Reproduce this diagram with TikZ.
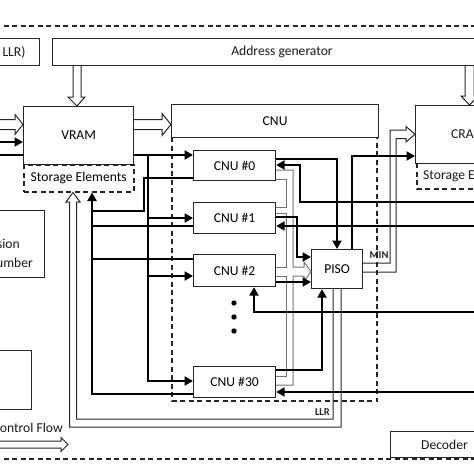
\documentclass[tikz,border=0pt]{standalone}
\usepackage{fontspec}
\setmainfont{Carlito}
\usetikzlibrary{arrows.meta}
\tikzset{
  box/.style={draw=black!85, line width=1.2pt, fill=white, inner sep=0pt, anchor=north west,
              font=\fontsize{13.6}{16}\selectfont},
  dbox/.style={draw=black!85, line width=1.5pt, dash pattern=on 5pt off 3.5pt},
  lab/.style={font=\fontsize{13.6}{16}\selectfont, inner sep=0pt, text=black!90},
  tag/.style={font=\fontsize{10.5}{12}\selectfont\bfseries, inner sep=0pt, text=black!85},
  wire/.style={line width=2.7pt, black},
  awire/.style={wire, -{Triangle[length=8.5pt,width=9pt]}},
  hollow/.style={draw=black!85, line width=1pt, line join=miter},
  busl/.style={draw=black!55, line width=1pt, line join=miter},
  dot/.style={circle, fill=black, inner sep=0pt, minimum size=5.4pt},
}
\begin{document}
\begin{tikzpicture}[x=1pt,y=-1pt]
\useasboundingbox (0,0) rectangle (474,474);
\clip (0,0) rectangle (474,474);

% dashed frames
\draw[dbox] (-5,26) -- (480,26);
\draw[dbox] (-5,459) -- (480,459);
\draw[dbox] (172,137) rectangle (377,401);
\node[dbox, anchor=north west, minimum width=110pt, minimum height=27pt, inner sep=0pt,
      font=\fontsize{13.6}{16}\selectfont] (vse) at (23,164) {Storage Elements};
\draw[dbox] (417,163) -- (417,189) -- (480,189);
\node[lab, anchor=west] (cset) at (423,176) {Storage E};

% boxes
\node[box, minimum width=50pt, minimum height=27pt] (llrb) at (-11,38) {};
\node[lab] (llrt) at (14,52) {LLR)};
\node[box, minimum width=440pt, minimum height=27pt] (agen) at (52,38) {};
\node[lab] (agent) at (282,52) {Address generator};
\node[box, minimum width=110pt, minimum height=58pt] (vram) at (23,106) {VRAM};
\node[box, minimum width=207pt, minimum height=33pt] (cnuh) at (171,104) {CNU};
\node[box, minimum width=120pt, minimum height=58pt] (cram) at (415,105) {};
\node[lab, anchor=west] (cramt) at (451,134) {CRA};
\node[box, minimum width=82pt, minimum height=30pt] (cnu0) at (193,150) {CNU \#0};
\node[box, minimum width=82pt, minimum height=31pt] (cnu1) at (193,202) {CNU \#1};
\node[box, minimum width=82pt, minimum height=32pt] (cnu2) at (193,254) {CNU \#2};
\node[box, minimum width=82pt, minimum height=31pt] (cnu30) at (193,366) {CNU \#30};
\node[box, minimum width=51pt, minimum height=39pt] (piso) at (311,249) {PISO};
\node[box, minimum width=60pt, minimum height=67pt] (lb1) at (-16,210) {};
\node[lab, anchor=east] (lb1a) at (20,244) {sion};
\node[lab, anchor=east] (lb1b) at (33,263) {umber};
\node[box, minimum width=45pt, minimum height=59pt] (lb2) at (-14,350) {};
\node[box, minimum width=100pt, minimum height=26pt] (dec) at (390,431) {};
\node[lab, anchor=west] (dect) at (421,445) {Decoder};
\node[lab, anchor=east] (cf) at (63,428) {ontrol Flow};

% dots
\node[dot] (d1) at (234,303) {};
\node[dot] (d2) at (234,317) {};
\node[dot] (d3) at (234,331) {};

% grey collecting bus from the CNUs to PISO
\draw[busl] (cnu0.east|-0,170) -- (293,170) -- (293,267) -- (304,267) -- (304,262)
   -- (piso.west|-0,271.5) -- (304,281) -- (304,276) -- (293,276) -- (293,385) -- (cnu30.east|-0,385);
\draw[busl] (cnu0.east|-0,179) -- (286,179) -- (286,207) -- (cnu1.east|-0,207);
\draw[busl] (cnu1.east|-0,213) -- (286,213) -- (286,267) -- (cnu2.east|-0,267);
\draw[busl] (cnu2.east|-0,276) -- (286,276) -- (286,376) -- (cnu30.east|-0,376);

% hollow (control flow) arrows
\draw[hollow] (73,65) -- (73,97) -- (68,97) -- (vram.north-|77,0) -- (85,97) -- (81,97) -- (81,65);
\draw[hollow] (465,65) -- (465,96) -- (461,96) -- (cram.north-|469.5,0) -- (478,96) -- (474,96) -- (474,65);
\draw[hollow] (-5,119.5) -- (15,119.5) -- (15,114.5) -- (vram.west|-0,124.5) -- (15,134.5) -- (15,129.5) -- (-5,129.5);
\draw[hollow] (vram.east|-0,119.5) -- (162,119.5) -- (162,113.5) -- (cnuh.west|-0,124.5)
   -- (162,135.5) -- (162,129.5) -- (vram.east|-0,129.5);
\draw[hollow] (piso.east|-0,263) -- (390,263) -- (390,130) -- (406,130) -- (406,126.5)
   -- (cram.west|-0,134.3) -- (406,142) -- (406,138.5) -- (396,138.5) -- (396,272) -- (piso.east|-0,272);
\draw[hollow] (piso.south-|341,0) -- (341,427) -- (69.5,427) -- (69.5,202) -- (66,202)
   -- (vse.south-|73,0) -- (80,202) -- (76.5,202) -- (76.5,419) -- (333,419) -- (piso.south-|333,0);
\draw[hollow] (-5,441) -- (61,441) -- (61,437.5) -- (68,444.5) -- (61,451.5) -- (61,448) -- (-5,448);

% thick data wires, left side
\draw[awire] (-5,142) -- (vram.west|-0,142);
\draw[wire] (-5,155) -- (vram.west|-0,155);
\draw[awire] (vram.east|-0,155) -- (cnu0.west|-0,155);
\draw[awire] (148,155) -- (148,381) -- (cnu30.west|-0,381);
\draw[awire] (148,218) -- (cnu1.west|-0,218);
\draw[awire] (148,276) -- (cnu2.west|-0,276);
\draw[wire] (cnu0.west|-0,178) -- (144,178) -- (144,211) -- (92,211);
\draw[awire] (cnu30.west|-0,394) -- (92,394) -- (vse.south-|92,0);
\draw[wire] (cnu1.west|-0,226) -- (92,226);
\draw[wire] (cnu2.west|-0,259) -- (92,259);

% thick data wires, right side
\draw[awire] (480,202) -- (300,202) -- (300,165) -- (cnu0.east|-0,165);
\draw[awire] (480,226) -- (cnu1.east|-0,226);
\draw[awire] (480,312) -- (254,312) -- (cnu2.south-|254,0);
\draw[awire] (480,392) -- (cnu30.east|-0,392);
\draw[awire] (cnu0.east|-0,159) -- (337,159) -- (piso.north-|337,0);
\draw[awire] (cnu1.east|-0,217) -- (297,217) -- (297,257) -- (piso.west|-0,257);
\draw[awire] (cnu2.east|-0,282) -- (piso.west|-0,282);
\draw[awire] (cnu30.east|-0,370) -- (322,370) -- (piso.south-|322,0);
\draw[awire] (piso.north-|352,0) -- (352,156) -- (cram.west|-0,156);

% small labels
\node[tag] (mint) at (379,255) {MIN};
\node[tag, anchor=east] (llrl) at (330,412) {LLR};
\end{tikzpicture}
\end{document}
